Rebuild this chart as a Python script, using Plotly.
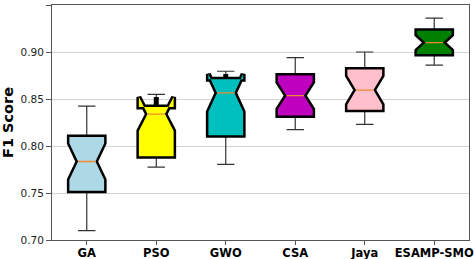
import plotly.graph_objects as go

categories = ["GA", "PSO", "GWO", "CSA", "Jaya", "ESAMP-SMO"]
lower_whisker = [0.710, 0.7775, 0.7805, 0.8175, 0.823, 0.886]
q1_values = [0.7525, 0.789, 0.8115, 0.8325, 0.8385, 0.898]
median_values = [0.7835, 0.834, 0.8565, 0.8535, 0.8595, 0.910]
q3_values = [0.8095, 0.8415, 0.871, 0.875, 0.8815, 0.9225]
upper_whisker = [0.8425, 0.855, 0.8795, 0.8940, 0.900, 0.936]
notch_half = [0.0195, 0.018, 0.020, 0.0145, 0.0155, 0.0085]
fill_colors = ["#ADD8E6", "#FFFF00", "#00BFBF", "#BF00BF", "#FFC0CB", "#008000"]
y_ticks = [0.70, 0.75, 0.80, 0.85, 0.90, 0.95]
y_tick_labels = ["0.70", "0.75", "0.80", "0.85", "0.90", "0.95"]

BOX_W = 0.5
fig = go.Figure()

# whiskers + caps (thin dark lines)
fig.add_trace(go.Box(
    x=categories, q1=q1_values, median=median_values, q3=q3_values,
    lowerfence=lower_whisker, upperfence=upper_whisker,
    notched=True, notchspan=notch_half, notchwidth=0.25,
    width=BOX_W, whiskerwidth=0.5,
    line=dict(color="#333333", width=1.2), fillcolor="rgba(0,0,0,0)",
    boxpoints=False, hoverinfo="skip", showlegend=False))

# thick black box outline (no whiskers)
fig.add_trace(go.Box(
    x=categories, q1=q1_values, median=median_values, q3=q3_values,
    lowerfence=q1_values, upperfence=q3_values,
    notched=True, notchspan=notch_half, notchwidth=0.25,
    width=BOX_W, whiskerwidth=0,
    line=dict(color="#000000", width=5), fillcolor="rgba(0,0,0,0)",
    boxpoints=False, hoverinfo="skip", showlegend=False))

# coloured fills covering inner half of outline and the black median
for i, c in enumerate(categories):
    fig.add_trace(go.Box(
        x=[c], q1=[q1_values[i]], median=[median_values[i]], q3=[q3_values[i]],
        lowerfence=[q1_values[i]], upperfence=[q3_values[i]],
        notched=True, notchspan=[notch_half[i]], notchwidth=0.25,
        width=BOX_W, whiskerwidth=0,
        line=dict(color=fill_colors[i], width=0.01), fillcolor=fill_colors[i],
        boxpoints=False, hoverinfo="skip", showlegend=False))

# orange median lines
fig.add_trace(go.Box(
    x=categories, q1=median_values, median=median_values, q3=median_values,
    lowerfence=median_values, upperfence=median_values,
    width=BOX_W * 0.5, whiskerwidth=0,
    line=dict(color="#F08A30", width=1.3), fillcolor="rgba(0,0,0,0)",
    boxpoints=False, hoverinfo="skip", showlegend=False))

fig.update_layout(
    width=474, height=259,
    margin=dict(l=52, r=5, t=5, b=19),
    paper_bgcolor="white", plot_bgcolor="white",
    boxmode="overlay",
    font=dict(family="DejaVu Sans", color="#000000"),
    showlegend=False,
)
fig.update_xaxes(
    type="category", categoryorder="array", categoryarray=categories,
    range=[-0.5, 5.5], automargin=False,
    showline=True, linecolor="#555555", linewidth=1, mirror=True,
    ticks="outside", ticklen=4, tickcolor="#555555", ticklabelstandoff=-2,
    tickfont=dict(family="DejaVu Sans", size=11.5, color="#000000", weight="bold"),
    showgrid=False,
)
fig.update_yaxes(
    range=[0.70, 0.95], tickmode="array", tickvals=y_ticks, ticktext=y_tick_labels,
    automargin=False,
    showline=True, linecolor="#555555", linewidth=1, mirror=True,
    ticks="outside", ticklen=5, tickcolor="#555555",
    tickfont=dict(family="DejaVu Sans", size=10.5, color="#222222"),
    showgrid=True, gridcolor="#D3D3D3", gridwidth=1, zeroline=False,
    title=dict(text="F1 Score", font=dict(family="DejaVu Sans", size=14.5, weight="bold"), standoff=5),
)

fig.write_html("out.html")
